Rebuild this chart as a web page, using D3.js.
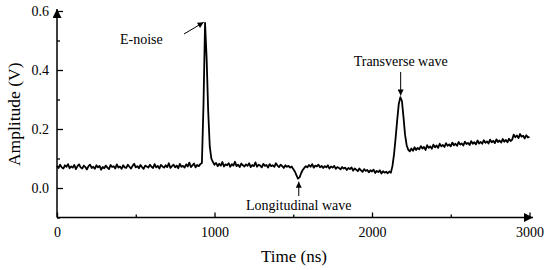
<!DOCTYPE html>
<html>
<head>
<meta charset="utf-8">
<title>Amplitude vs time</title>
<script src="https://cdn.jsdelivr.net/npm/d3@7"></script>
<style>
  body { margin: 0; background: #fff; }
  text { font-family: "Liberation Serif", "Times New Roman", serif; fill: #000; }
</style>
</head>
<body>
<svg id="chart" width="550" height="270"></svg>
<script>
// trace: one sample every 10 ns, from 0 to 3000 ns (V)
var sampleStepNs = 10;
var amplitudeV = [
  0.075,0.068,0.079,0.070,0.066,0.077,0.072,0.081,0.067,0.073,
  0.069,0.078,0.064,0.074,0.080,0.070,0.066,0.076,0.071,0.063,
  0.074,0.079,0.068,0.072,0.065,0.077,0.070,0.075,0.062,0.071,
  0.067,0.076,0.069,0.064,0.078,0.071,0.074,0.066,0.080,0.069,
  0.073,0.065,0.077,0.070,0.068,0.079,0.072,0.066,0.075,0.082,
  0.070,0.074,0.067,0.078,0.071,0.065,0.076,0.073,0.069,0.079,
  0.072,0.068,0.081,0.070,0.075,0.066,0.078,0.073,0.069,0.077,
  0.071,0.084,0.068,0.074,0.079,0.070,0.076,0.067,0.082,0.072,
  0.075,0.069,0.080,0.073,0.086,0.071,0.077,0.083,0.070,0.078,
  0.074,0.081,0.085,0.280,0.560,0.440,0.260,0.140,0.100,0.088,
  0.079,0.085,0.074,0.082,0.076,0.088,0.073,0.080,0.077,0.084,
  0.072,0.081,0.076,0.089,0.074,0.079,0.071,0.083,0.077,0.073,
  0.080,0.075,0.084,0.071,0.078,0.074,0.087,0.072,0.079,0.076,
  0.070,0.082,0.075,0.078,0.069,0.081,0.074,0.077,0.072,0.084,
  0.076,0.071,0.079,0.074,0.068,0.077,0.072,0.075,0.069,0.073,
  0.064,0.056,0.044,0.032,0.036,0.050,0.061,0.068,0.074,0.070,
  0.078,0.072,0.081,0.069,0.076,0.073,0.079,0.070,0.075,0.068,
  0.074,0.070,0.077,0.066,0.073,0.069,0.075,0.065,0.071,0.068,
  0.063,0.071,0.066,0.069,0.061,0.068,0.064,0.070,0.059,0.066,
  0.062,0.057,0.066,0.060,0.055,0.064,0.058,0.061,0.053,0.060,
  0.056,0.062,0.051,0.058,0.054,0.060,0.049,0.057,0.052,0.055,
  0.050,0.056,0.052,0.075,0.115,0.170,0.230,0.285,0.308,0.295,
  0.240,0.180,0.145,0.130,0.124,0.134,0.126,0.138,0.129,0.136,
  0.131,0.142,0.134,0.139,0.129,0.145,0.136,0.141,0.133,0.147,
  0.138,0.144,0.136,0.150,0.141,0.146,0.139,0.152,0.143,0.148,
  0.141,0.154,0.145,0.150,0.143,0.156,0.147,0.151,0.144,0.157,
  0.149,0.153,0.146,0.159,0.150,0.155,0.148,0.161,0.151,0.156,
  0.150,0.162,0.153,0.158,0.151,0.164,0.155,0.160,0.152,0.165,
  0.156,0.161,0.154,0.166,0.157,0.163,0.155,0.167,0.159,0.164,
  0.181,0.172,0.178,0.169,0.183,0.174,0.177,0.168,0.179,0.171,
  0.174
];

var xMajor = [0, 1000, 2000, 3000];
var xMinor = [500, 1500, 2500];
var yMajor = [0.0, 0.2, 0.4, 0.6];
var yMinor = [-0.1, 0.1, 0.3, 0.5];

var notes = [
  {label: "E-noise", t: 944, v: 0.565},
  {label: "Longitudinal wave", t: 1535, v: 0.028},
  {label: "Transverse wave", t: 2182, v: 0.31}
];

var svg = d3.select("#chart");

var x = d3.scaleLinear().domain([0, 3000]).range([57, 529.5]);
var y = d3.scaleLinear().domain([-0.1, 0.6]).range([217.5, 11]);

var defs = svg.append("defs");
defs.append("marker")
    .attr("id", "axisHead")
    .attr("viewBox", "0 0 10 10")
    .attr("refX", 10).attr("refY", 5)
    .attr("markerUnits", "userSpaceOnUse")
    .attr("markerWidth", 10).attr("markerHeight", 9)
    .attr("orient", "auto")
  .append("path").attr("d", "M0,0L10,5L0,10Z").attr("fill", "#000");
defs.append("marker")
    .attr("id", "noteHead")
    .attr("viewBox", "0 0 10 10")
    .attr("refX", 10).attr("refY", 5)
    .attr("markerUnits", "userSpaceOnUse")
    .attr("markerWidth", 8).attr("markerHeight", 6)
    .attr("orient", "auto")
  .append("path").attr("d", "M0,0L10,5L0,10Z").attr("fill", "#000");

// axes
var gx = svg.append("g").attr("transform", "translate(0," + y(-0.1) + ")");
gx.call(d3.axisBottom(x).tickValues(xMajor).tickSize(-5).tickPadding(10)
    .tickFormat(d3.format("d")));
gx.append("g").call(d3.axisBottom(x).tickValues(xMinor).tickSize(-3).tickFormat(""));

var gy = svg.append("g").attr("transform", "translate(" + x(0) + ",0)");
gy.call(d3.axisLeft(y).tickValues(yMajor).tickSize(-6).tickPadding(8)
    .tickFormat(d3.format(".1f")));
gy.append("g").call(d3.axisLeft(y).tickValues(yMinor).tickSize(-3).tickFormat(""));

svg.selectAll(".domain").remove();
svg.selectAll(".tick line").attr("stroke", "#000").attr("stroke-width", 1.3);
svg.selectAll(".tick text").style("font-size", "14px")
    .style("font-family", "'Liberation Serif', 'Times New Roman', serif");

svg.append("line")
    .attr("x1", x(0)).attr("y1", y(-0.1))
    .attr("x2", 533).attr("y2", y(-0.1))
    .attr("stroke", "#000").attr("stroke-width", 1.5)
    .attr("marker-end", "url(#axisHead)");
svg.append("line")
    .attr("x1", x(0)).attr("y1", y(-0.1))
    .attr("x2", x(0)).attr("y2", 9)
    .attr("stroke", "#000").attr("stroke-width", 1.5)
    .attr("marker-end", "url(#axisHead)");

// axis titles
svg.append("text")
    .attr("x", 294).attr("y", 262)
    .attr("text-anchor", "middle")
    .style("font-size", "17px")
    .text("Time (ns)");
svg.append("text")
    .attr("transform", "translate(20," + y(0.25) + ") rotate(-90)")
    .attr("text-anchor", "middle")
    .style("font-size", "17.5px")
    .text("Amplitude (V)");

// trace
var line = d3.line()
    .x(function(d, i) { return x(i * sampleStepNs); })
    .y(function(d) { return y(d); });

svg.append("path")
    .datum(amplitudeV)
    .attr("d", line)
    .attr("fill", "none")
    .attr("stroke", "#000")
    .attr("stroke-width", 1.8)
    .attr("stroke-linejoin", "round");

// annotations
var eN = notes[0], lW = notes[1], tW = notes[2];
svg.append("text").attr("x", 120).attr("y", 44).style("font-size", "14px").text(eN.label);
svg.append("line")
    .attr("x1", 184).attr("y1", 34)
    .attr("x2", x(eN.t) - 2).attr("y2", y(eN.v) + 1)
    .attr("stroke", "#000").attr("stroke-width", 1)
    .attr("marker-end", "url(#noteHead)");

svg.append("text").attr("x", x(lW.t)).attr("y", 210)
    .attr("text-anchor", "middle").style("font-size", "14px").text(lW.label);
svg.append("line")
    .attr("x1", x(lW.t)).attr("y1", 196)
    .attr("x2", x(lW.t)).attr("y2", y(lW.v) + 2)
    .attr("stroke", "#000").attr("stroke-width", 1)
    .attr("marker-end", "url(#noteHead)");

svg.append("text").attr("x", x(tW.t)).attr("y", 66)
    .attr("text-anchor", "middle").style("font-size", "14px").text(tW.label);
svg.append("line")
    .attr("x1", x(tW.t)).attr("y1", 72)
    .attr("x2", x(tW.t)).attr("y2", y(tW.v) - 1)
    .attr("stroke", "#000").attr("stroke-width", 1)
    .attr("marker-end", "url(#noteHead)");
</script>
</body>
</html>
